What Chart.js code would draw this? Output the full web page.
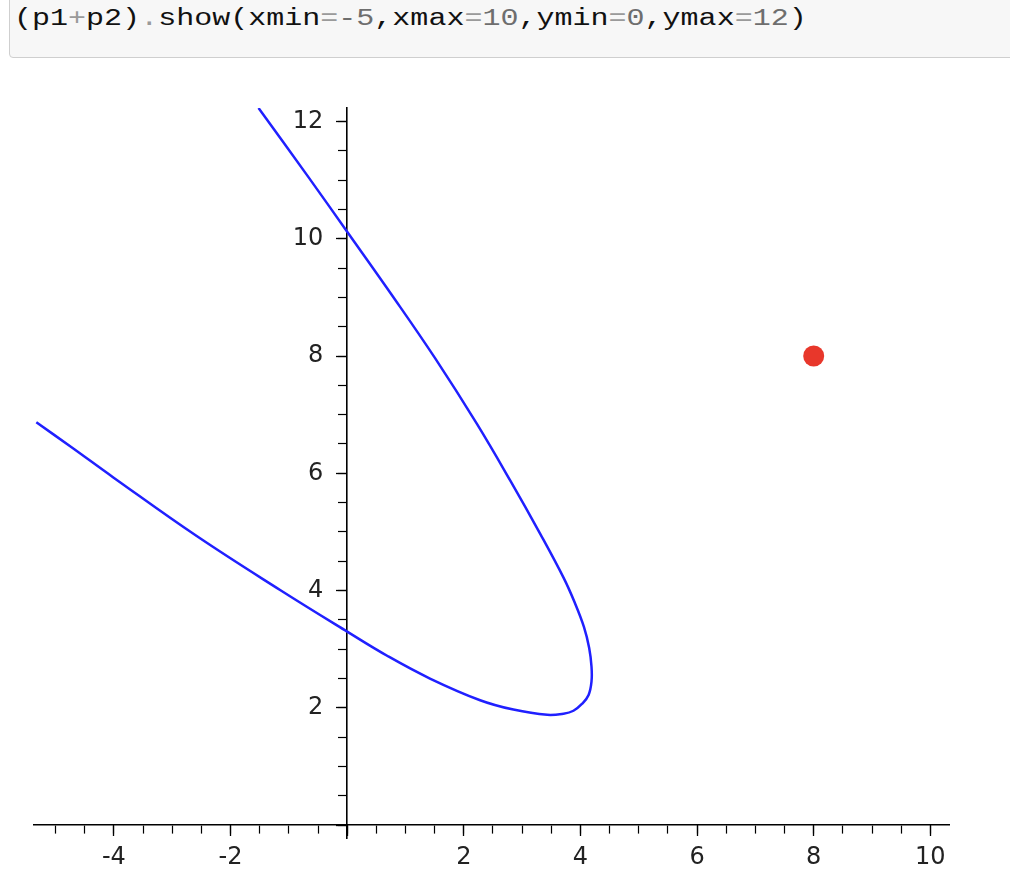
<!DOCTYPE html>
<html>
<head>
<meta charset="utf-8">
<script src="https://cdn.jsdelivr.net/npm/chart.js@4.4.0/dist/chart.umd.min.js"></script>
<style>
  html, body { margin: 0; padding: 0; background: #fff; width: 1010px; height: 894px; overflow: hidden; }
  #cell { position: absolute; left: 9px; top: -10px; width: 1040px; height: 68px; background: #f7f7f7; border: 1px solid #cfcfcf; border-radius: 4px; box-sizing: border-box; }
  #code { position: absolute; left: 14px; top: 8px; font-family: "Liberation Mono", monospace; font-size: 23px; line-height: 23px; white-space: pre; transform: scaleX(1.305); transform-origin: 0 0; color: #111; }
  .op { color: #9a9a9a; }
  .num { color: #6e6e6e; }
  #plot { position: absolute; left: 0; top: 0; }
</style>
</head>
<body>
<div id="cell"></div>
<div id="code">(p1<span class="op">+</span>p2)<span class="op">.</span>show(xmin<span class="op">=</span><span class="num">-5</span>,xmax<span class="op">=</span><span class="num">10</span>,ymin<span class="op">=</span><span class="num">0</span>,ymax<span class="op">=</span><span class="num">12</span>)</div>
<canvas id="plot" width="1010" height="894"></canvas>
<script>
  // curve p1 (lower arm left->right, round the tip, then up the upper arm)
  const curveX = [-5.33, -4.72, -4.01, -2.58, -1.15, 0, 0.70, 1.42, 2.28, 2.85, 3.43, 3.71, 3.88, 4.03, 4.14, 4.19, 4.19, 4.15, 4.06, 3.90, 3.71, 3.32, 2.80, 2.22, 1.51, 0.76, 0, -0.67, -1.52];
  const curveY = [6.87, 6.44, 5.93, 4.93, 4.01, 3.30, 2.88, 2.50, 2.13, 1.97, 1.88, 1.90, 1.95, 2.07, 2.22, 2.45, 2.70, 3.02, 3.38, 3.80, 4.22, 4.95, 5.87, 6.85, 7.96, 9.05, 10.12, 11.06, 12.23];
  // point p2
  const pointX = [8];
  const pointY = [8];

  const xRange = [-5.37, 10.32];
  const yRange = [-0.22, 12.23];
  const majorStep = 2;
  const minorStep = 0.5;

  function toXY(xs, ys) {
    return xs.map((x, i) => ({ x: x, y: ys[i] }));
  }

  const tickFont = { family: 'DejaVu Sans', size: 24 };
  const tickColor = '#222';
  function xLabel(v) {
    return v === 0 ? '' : String(v);
  }
  function yLabel(v) {
    // the centred y axis puts its labels right on the spine, so pad them off it
    return v === 0 ? '' : String(v) + '\u2002\u2002';
  }

  const ctx = document.getElementById('plot');
  new Chart(ctx, {
    type: 'scatter',
    data: {
      datasets: [
        {
          label: 'p1',
          data: toXY(curveX, curveY),
          showLine: true,
          borderColor: '#2020ff',
          borderWidth: 2.5,
          pointRadius: 0,
          tension: 0.4,
          fill: false
        },
        {
          label: 'p2',
          data: toXY(pointX, pointY),
          pointRadius: 10.5,
          pointBackgroundColor: '#e8372b',
          pointBorderWidth: 0
        }
      ]
    },
    options: {
      responsive: false,
      animation: false,
      layout: { padding: { left: 34, top: 108, right: 61, bottom: 56 } },
      plugins: { legend: { display: false }, tooltip: { enabled: false } },
      scales: {
        x: {
          type: 'linear', min: xRange[0], max: xRange[1],
          position: { y: 0 },
          grid: { drawOnChartArea: false, tickLength: 8, tickColor: '#000', tickWidth: 1.2 },
          border: { color: '#000', width: 1.6 },
          ticks: { stepSize: minorStep, includeBounds: false, display: false }
        },
        xMajor: {
          type: 'linear', axis: 'x', min: xRange[0], max: xRange[1],
          position: { y: 0 },
          grid: { drawOnChartArea: false, tickLength: 11, tickColor: '#000', tickWidth: 1.3 },
          border: { display: false },
          ticks: { stepSize: majorStep, includeBounds: false, autoSkip: false, maxRotation: 0, padding: 7, font: tickFont, color: tickColor, callback: xLabel }
        },
        y: {
          type: 'linear', min: yRange[0], max: yRange[1],
          position: { x: 0 },
          grid: { drawOnChartArea: false, tickLength: 8, tickColor: '#000', tickWidth: 1.2 },
          border: { color: '#000', width: 1.6 },
          ticks: { stepSize: minorStep, includeBounds: false, display: false }
        },
        yMajor: {
          type: 'linear', axis: 'y', min: yRange[0], max: yRange[1],
          position: { x: 0 },
          grid: { drawOnChartArea: false, tickLength: 11, tickColor: '#000', tickWidth: 1.3 },
          border: { display: false },
          ticks: { stepSize: majorStep, includeBounds: false, autoSkip: false, font: tickFont, color: tickColor, callback: yLabel }
        }
      }
    }
  });
</script>
</body>
</html>
